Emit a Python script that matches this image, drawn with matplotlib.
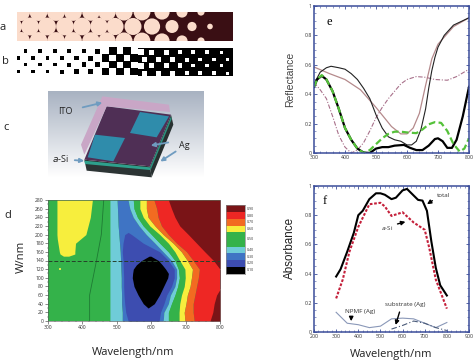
import numpy as np
import matplotlib
matplotlib.use("Agg")
import matplotlib.pyplot as plt
from matplotlib.patches import Polygon, Circle, Rectangle
from matplotlib.ticker import MultipleLocator

W_PX, H_PX = 474, 361
plt.rcParams['font.family'] = ['Open Sans', 'DejaVu Sans']

# ---------- panel e ----------
e_thin_black_x = [300,310,320,340,355,380,400,420,440,460,480,500,520,540,560,580,600,615,630,645,660,670,680,690,700,720,750,800]
e_thin_black_y = [.47,.51,.55,.58,.59,.58,.57,.54,.50,.44,.37,.26,.17,.11,.09,.08,.055,.055,.08,.16,.30,.44,.56,.65,.72,.80,.87,.92]
e_pink_x = [300,350,400,450,500,550,580,600,620,640,660,680,700,750,800]
e_pink_y = [.585,.54,.50,.43,.31,.18,.13,.13,.17,.27,.46,.64,.74,.86,.92]
e_dashdot_x = [300,320,340,360,380,400,420,440,460,480,500,520,540,560,580,600,630,660,690,730,760,800]
e_dashdot_y = [.48,.43,.37,.25,.12,.04,0,.02,.07,.15,.24,.31,.37,.42,.47,.50,.52,.515,.50,.495,.52,.57]
e_thick_x = [300,310,325,340,360,380,400,420,440,460,480,500,520,540,560,590,610,630,650,670,690,700,715,730,745,760,780,800]
e_thick_y = [.45,.50,.525,.50,.42,.30,.17,.09,.03,.003,0,.03,.04,.04,.05,.055,.035,.02,.02,.05,.095,.10,.08,.035,.035,.09,.25,.45]
e_green_x = [300,310,325,340,360,380,400,420,440,460,480,500,520,540,560,580,600,630,650,670,690,710,730,750,770,785,800]
e_green_y = [.45,.50,.53,.50,.42,.30,.17,.09,.03,0,.02,.06,.10,.13,.145,.145,.14,.135,.16,.195,.21,.205,.15,.06,.01,.03,.10]

# ---------- panel f ----------
f_total_x = [300,320,350,380,400,420,450,480,500,520,550,570,600,620,640,670,690,710,730,750,770,800]
f_total_y = [.38,.43,.55,.68,.80,.83,.91,.95,.95,.94,.91,.92,.97,.98,.95,.905,.90,.83,.62,.44,.32,.25]
f_si_x = [300,330,360,400,450,500,520,550,600,650,700,720,750,780,800]
f_si_y = [.23,.36,.55,.72,.875,.885,.86,.795,.82,.75,.70,.58,.36,.24,.16]
f_npmf_x = [300,350,400,450,500,550,600,650,700,750,800]
f_npmf_y = [.135,.06,.05,.03,.04,.09,.095,.09,.06,.03,.065]
f_sub_x = [550,580,600,650,700,750,800]
f_sub_y = [.02,.035,.045,.075,.06,.03,.01]

# ---------- panel d ----------
d_W = [0,20,40,60,80,100,120,140,160,180,200,220,240,260,280]
d_blue_left = [516,516,514,514,513,513,512,511,510,508,506,504,503,502,501]
d_cyan_left = [480]*15
d_cyan_right = [635,637,650,656,669,674,674,659,635,611,586,565,548,538,533]
d_green_right = [650,650,659,669,677,682,679,669,650,625,601,577,560,550,548]
d_yellow_left = [681,681,683,688,696,699,698,683,669,650,625,596,577,567,567]
d_orange_left = [698,696,701,705,713,717,720,705,688,664,635,611,591,586,586]
d_red_left = [725,722,722,727,732,737,740,722,703,674,650,630,620,616,608]
d_darkred_left = [771,779,783,790,805,820,800,781,756,732,708,683,669,659,650]
d_inner_W = [0,20,40,60,80,100,120,140,160,180,200,205]
d_inner_left = [533,526,523,521,520,520,519,518,516,518,523,533]
d_inner_right = [623,627,637,645,659,667,667,650,625,577,543,533]
d_black_W = [30,40,60,80,100,110,120,130,140,150]
d_black_left = [591,577,562,550,545,546,548,557,572,594]
d_black_right = [591,609,624,636,648,650,642,632,621,599]
d_yblob_W = [150,155,160,180,190,200,240,280]
d_yblob_left = [345,335,333,329,327,326,326,326]
d_yblob_right = [360,378,378,380,395,410,423,429]
d_line_W = [0,60,140,200,280]
d_line_x = [421,421,441,455,462]
cbar_labels = ['0.90','0.80','0.70','0.60','0.50','0.40','0.30','0.20','0.10']
cbar_colors = ['#7a1417','#ee2724','#f26b21','#f7ee3d','#34b24a','#6fccd8','#3f74c4','#3d4db0','#000000']
cbar_heights = [22,20,20,20,43,20,20,20,22]

# ---------- panel a / b illustration ----------
a_mid_x = [13,30,47,65,82,99,115,133,152,172,192,210]
a_mid_r = [9.0,9.0,8.95,8.9,8.85,8.75,8.6,8.5,8.1,6.5,4.6,2.8]
a_edge_x = [21,38.5,56,73,91,107,124,142,162,182,201]
a_edge_r = [9.0,8.95,8.9,8.9,8.8,8.7,8.55,8.4,7.6,5.6,3.6]
b_rowA_x = [25.7,40,55,69,84,98,113,127]
b_rowA_s = [3.5,3.5,3.5,4,4.5,5,7.3,7.3]
b_rowB_x = [18.5,33,47.5,62,76.5,91,105.5,120,134]
b_rowB_s = [3.5,3.5,3.5,4,4.2,5,7.3,7.3,7.3]
b_wA_x = [141.5,152,167,180,193,207,222]
b_wA_s = [6,5,5,4.8,3.4,3.2,3]
b_wB_x = [145,159,173,187,200,214,228]
b_wB_s = [5,5,5,4,3.2,3.2,3]

fig = plt.figure(figsize=(W_PX/100, H_PX/100), dpi=100)
scene = fig.add_axes([0, 0, 1, 1], zorder=0)
scene.set_xlim(0, W_PX); scene.set_ylim(H_PX, 0); scene.axis('off')

def px_axes(x0, y0, x1, y1):
    return fig.add_axes([x0/W_PX, 1-y1/H_PX, (x1-x0)/W_PX, (y1-y0)/H_PX], zorder=2)

# panel a
dark = '#3a0f14'; light = '#fbdccb'
box_a = Rectangle((17, 12), 216, 29, fc=dark, ec='none'); scene.add_patch(box_a)
clipA = Rectangle((17, 12), 216, 29, transform=scene.transData)
def disc(x, y, r):
    c = Circle((x, y), r, fc=light, ec='none'); scene.add_patch(c); c.set_clip_path(clipA)
for x, r in zip(a_mid_x, a_mid_r):
    disc(x, 26.5, r)
for x, r in zip(a_edge_x, a_edge_r):
    disc(x, 12, r); disc(x, 41, r)

# panel b
scene.add_patch(Rectangle((137.6, 48), 95.4, 28, fc='black', ec='none'))
def sq(x, y, s, col):
    scene.add_patch(Rectangle((x-s/2, y-s/2), s, s, fc=col, ec='none'))
for y in (51, 64.7):
    for x, s in zip(b_rowA_x, b_rowA_s):
        sq(x, y, s, 'black')
    for x, s in zip(b_wA_x, b_wA_s):
        sq(x, y+1, s, 'white')
for y in (58, 71.5):
    for x, s in zip(b_rowB_x, b_rowB_s):
        sq(x, y, s, 'black')
    for x, s in zip(b_wB_x, b_wB_s):
        sq(x, y+1.5, s, 'white')

# panel c
grad = np.linspace(0, 1, 60)[:, None]
c0 = np.array([0.66, 0.70, 0.76]); c1 = np.array([1, 1, 1])
scene.imshow(c0 + (c1-c0)*grad[:, :, None], extent=(48, 204, 178, 91), aspect='auto', zorder=0)
scene.set_xlim(0, W_PX); scene.set_ylim(H_PX, 0)
def poly(pts, **kw):
    p = [(45+a/3, 88+b/3) for a, b in pts]
    scene.add_patch(Polygon(p, closed=True, ec='none', **kw))
poly([(118,215),(315,235),(320,268),(125,248)], fc='#2c3434', zorder=1)
poly([(315,235),(378,80),(385,110),(320,268)], fc='#283030', zorder=1)
poly([(118,218),(315,238),(315,246),(120,228)], fc='#2ea08c', zorder=1.1)
poly([(315,238),(378,85),(380,93),(317,246)], fc='#2e8f7e', zorder=1.1)
poly([(185,55),(378,80),(315,235),(118,215)], fc='#4f2f55', zorder=1.2)
poly([(285,72),(372,85),(335,148),(255,135)], fc='#2f8cab', zorder=1.3)
poly([(150,140),(240,150),(205,220),(128,208)], fc='#2f8cab', zorder=1.3)
poly([(172,25),(372,50),(375,72),(185,55),(118,200),(108,170)], fc='#c9a6c6', zorder=1.4)
for (xa, ya, xb, yb) in [(80,108,105,102),(72,160,87,161),(171,142,148,146),(178,150,158,163)]:
    scene.annotate('', xy=(xb, yb), xytext=(xa, ya),
                   arrowprops=dict(arrowstyle='-|>', color='#6f9cc0', lw=1.3, mutation_scale=6), zorder=3)
scene.text(65, 111, 'ITO', fontsize=6.5, ha='center', va='center', color='#222222', zorder=3)
scene.text(60, 159, r'$\mathit{a}$-Si', fontsize=6.5, ha='center', va='center', color='#222222', zorder=3)
scene.text(184, 146, 'Ag', fontsize=6.5, ha='center', va='center', color='#222222', zorder=3)

for s, x, y in [('a', 3, 27), ('b', 5, 61), ('c', 6, 128), ('d', 8, 215)]:
    scene.text(x, y, s, fontsize=8, ha='center', va='center', color='#222222')

# panel d
ax = px_axes(48, 200, 220, 321)
ax.fill_betweenx(d_W, 300, 800, color=cbar_colors[4], lw=0)
ax.fill_betweenx(d_W, d_cyan_left, d_blue_left, color=cbar_colors[5], lw=0)
ax.fill_betweenx(d_W, d_blue_left, d_cyan_right, color=cbar_colors[6], lw=0)
ax.fill_betweenx(d_inner_W, d_inner_left, d_inner_right, color=cbar_colors[7], lw=0)
ax.fill_betweenx(d_W, d_cyan_right, d_green_right, color=cbar_colors[5], lw=0)
ax.fill_betweenx(d_W, d_green_right, d_yellow_left, color=cbar_colors[4], lw=0)
ax.fill_betweenx(d_W, d_yellow_left, d_orange_left, color=cbar_colors[3], lw=0)
ax.fill_betweenx(d_W, d_orange_left, d_red_left, color=cbar_colors[2], lw=0)
ax.fill_betweenx(d_W, d_red_left, 800, color=cbar_colors[1], lw=0)
ax.fill_betweenx(d_W, d_darkred_left, 800, color=cbar_colors[0], lw=0)
ax.fill_betweenx(d_black_W, d_black_left, d_black_right, color='black', lw=0)
ax.fill_betweenx(d_yblob_W, d_yblob_left, d_yblob_right, color=cbar_colors[3], lw=0)
ax.plot([335], [120], 's', ms=1.5, color='#d8e84a', mew=0)
ax.plot(d_line_x, d_line_W, color='#1f7a34', lw=0.6)
ax.axhline(140, color='#26402a', lw=0.7, ls=(0, (4, 2)))
ax.set_xlim(300, 800); ax.set_ylim(0, 280)
ax.xaxis.set_major_locator(MultipleLocator(100)); ax.xaxis.set_minor_locator(MultipleLocator(20))
ax.yaxis.set_major_locator(MultipleLocator(20)); ax.yaxis.set_minor_locator(MultipleLocator(10))
ax.tick_params(axis='both', which='major', labelsize=3.6, length=2, width=0.4, pad=1, colors='#333333')
ax.tick_params(axis='both', which='minor', length=1, width=0.3, colors='#333333')
for sp in ax.spines.values():
    sp.set_linewidth(0.4); sp.set_color('#555555')

# colour bar
cb = px_axes(226, 205, 245, 274)
cum = 0
for col, h in zip(cbar_colors, cbar_heights):
    cb.bar(0, h, bottom=cum, width=1, color=col, lw=0)
    cum += h
cb.set_xlim(-.5, .5); cb.set_ylim(cum, 0); cb.set_xticks([]); cb.set_yticks([])
for sp in cb.spines.values():
    sp.set_linewidth(0.5); sp.set_color('#888888')
pos = np.cumsum([0] + cbar_heights[:-1]) + np.array(cbar_heights)/2
for lab, p in zip(cbar_labels, pos):
    cb.text(0.6, p, lab, fontsize=2.6, va='center', ha='left', color='#333333', clip_on=False)

scene.text(21, 257, 'W/nm', fontsize=8.2, rotation=90, ha='center', va='center', color='#222222')
scene.text(133, 352, 'Wavelength/nm', fontsize=8, ha='center', va='center', color='#222222')

# panel e
def style(a):
    for sp in a.spines.values():
        sp.set_linewidth(1.1); sp.set_color('#3b4d9a')
    a.tick_params(axis='both', which='major', direction='in', top=True, right=True, length=2.5,
                  width=0.6, color='#3b4d9a', labelsize=3.8, labelcolor='#333333', pad=1.5)
    a.tick_params(axis='both', which='minor', direction='in', top=True, right=True, length=1.2,
                  width=0.4, color='#3b4d9a')
    a.yaxis.set_minor_locator(MultipleLocator(0.05))
    a.xaxis.set_major_locator(MultipleLocator(100)); a.xaxis.set_minor_locator(MultipleLocator(20))
    a.set_ylim(0, 1)
    a.set_yticks([0, .2, .4, .6, .8, 1]); a.set_yticklabels(['0', '0.2', '0.4', '0.6', '0.8', '1'])

ae = px_axes(314, 6, 469, 153)
ae.plot(e_pink_x, e_pink_y, color='#b58a8c', lw=0.9)
ae.plot(e_dashdot_x, e_dashdot_y, color='#a8708a', lw=0.8, ls=(0, (4, 1.5, 1, 1.5)))
ae.plot(e_thin_black_x, e_thin_black_y, color='#222222', lw=0.8)
ae.plot(e_thick_x, e_thick_y, color='black', lw=1.6)
ae.plot(e_green_x, e_green_y, color='#55c23a', lw=1.6, ls=(0, (3, 1.5)))
ae.set_xlim(300, 800); style(ae)
ae.text(0.1, 0.89, 'e', transform=ae.transAxes, fontsize=9, family='Liberation Serif', ha='center', va='center')
scene.text(290, 79, 'Reflectance', fontsize=7.5, rotation=90, ha='center', va='center',
           family='Liberation Sans', color='#444444')

# panel f
af = px_axes(314, 186, 469, 332)
af.plot(f_total_x, f_total_y, color='black', lw=1.5)
af.plot(f_si_x, f_si_y, color='#c41f3a', lw=1.5, ls=(0, (1.3, 0.8)))
af.plot(f_npmf_x, f_npmf_y, color='#8a98b8', lw=0.8)
af.plot(f_sub_x, f_sub_y, color='#4a5a78', lw=0.8, ls=(0, (5, 2, 1, 2)))
af.set_xlim(200, 900); style(af)
af.text(0.07, 0.895, 'f', transform=af.transAxes, fontsize=9, family='Liberation Serif', ha='center', va='center')
def note(txt, tx, ty, x0, y0, x1, y1):
    af.text(tx, ty, txt, fontsize=4.5, ha='center', va='center', color='#333333')
    af.annotate('', xy=(x1, y1), xytext=(x0, y0),
                arrowprops=dict(arrowstyle='-|>', color='black', lw=1.0, mutation_scale=6))
note('total', 783, .935, 745, .91, 700, .865)
note(r'$\mathit{a}$-Si', 530, .715, 565, .735, 625, .76)
note('NPMF (Ag)', 410, .14, 368, .115, 368, .055)
note('substrate (Ag)', 610, .19, 590, .155, 565, .03)
scene.text(290, 248, 'Absorbance', fontsize=8.4, rotation=90, ha='center', va='center',
           family='Liberation Sans', color='#222222')
scene.text(391, 354, 'Wavelength/nm', fontsize=8, ha='center', va='center', color='#222222')

fig.savefig('out.png', dpi=100)
